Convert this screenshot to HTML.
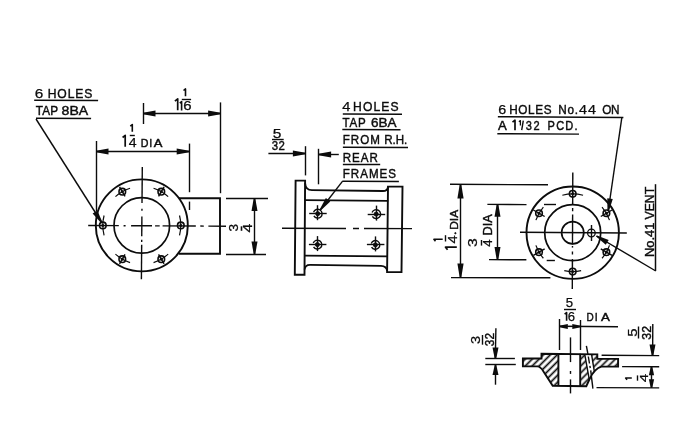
<!DOCTYPE html>
<html><head><meta charset="utf-8"><style>
html,body{margin:0;padding:0;background:#fff;}
svg{display:block;will-change:transform;}
text{font-family:"Liberation Sans",sans-serif;fill:#0c0c0c;stroke:#0c0c0c;stroke-width:0.42px;}
text.s{stroke-width:0.25px;}
</style></head><body>
<svg width="699" height="425" viewBox="0 0 699 425">
<defs><pattern id="hatch" patternUnits="userSpaceOnUse" width="4.9" height="4.9" patternTransform="translate(0.8 0) rotate(45)">
<rect width="4.9" height="4.9" fill="#fff"/><rect x="1.6" y="0" width="1.7" height="4.9" fill="#0c0c0c"/></pattern></defs>
<rect width="699" height="425" fill="#fff"/>
<path d="M178.8 198.3 H220 V253.8 H178.8" stroke="#0c0c0c" stroke-width="1.9" fill="none"/>
<circle cx="141.8" cy="225.4" r="46" stroke="#0c0c0c" stroke-width="1.9" fill="none"/>
<circle cx="141.8" cy="225.4" r="27.8" stroke="#0c0c0c" stroke-width="1.7" fill="none"/>
<line x1="88.2" y1="225.5" x2="118.8" y2="225.65" stroke="#0c0c0c" stroke-width="1.4"/>
<line x1="123.6" y1="225.68" x2="125.6" y2="225.69" stroke="#0c0c0c" stroke-width="1.4"/>
<line x1="131.1" y1="225.72" x2="152" y2="225.82" stroke="#0c0c0c" stroke-width="1.4"/>
<line x1="155.1" y1="225.84" x2="159.7" y2="225.86" stroke="#0c0c0c" stroke-width="1.4"/>
<line x1="162.6" y1="225.87" x2="195.8" y2="226.04" stroke="#0c0c0c" stroke-width="1.4"/>
<line x1="200.3" y1="226.06" x2="203.8" y2="226.08" stroke="#0c0c0c" stroke-width="1.4"/>
<line x1="208.4" y1="226.1" x2="226" y2="226.19" stroke="#0c0c0c" stroke-width="1.4"/>
<line x1="142.3" y1="167.1" x2="142.01" y2="203.1" stroke="#0c0c0c" stroke-width="1.4"/>
<line x1="141.97" y1="208.7" x2="141.95" y2="210.8" stroke="#0c0c0c" stroke-width="1.4"/>
<line x1="141.9" y1="216.5" x2="141.74" y2="236.3" stroke="#0c0c0c" stroke-width="1.4"/>
<line x1="141.72" y1="239.8" x2="141.7" y2="241.9" stroke="#0c0c0c" stroke-width="1.4"/>
<line x1="141.68" y1="244.7" x2="141.4" y2="279.3" stroke="#0c0c0c" stroke-width="1.4"/>
<circle cx="180.8" cy="225.4" r="3.3" stroke="#0c0c0c" stroke-width="1.6" fill="none"/>
<circle cx="180.8" cy="225.4" r="1.2" stroke="#0c0c0c" stroke-width="0.6" fill="#0c0c0c"/>
<path d="M179.52 235.29 A39 39 0 0 0 179.52 215.51" stroke="#0c0c0c" stroke-width="1.2" fill="none"/>
<circle cx="161.3" cy="191.63" r="3.3" stroke="#0c0c0c" stroke-width="1.6" fill="none"/>
<circle cx="161.3" cy="191.63" r="1.2" stroke="#0c0c0c" stroke-width="0.6" fill="#0c0c0c"/>
<path d="M168.14 196.64 A39 39 0 0 0 153.54 188.21" stroke="#0c0c0c" stroke-width="1.2" fill="none"/>
<line x1="158.55" y1="196.39" x2="164.05" y2="186.86" stroke="#0c0c0c" stroke-width="1.4"/>
<circle cx="122.3" cy="191.63" r="3.3" stroke="#0c0c0c" stroke-width="1.6" fill="none"/>
<circle cx="122.3" cy="191.63" r="1.2" stroke="#0c0c0c" stroke-width="0.6" fill="#0c0c0c"/>
<path d="M130.06 188.21 A39 39 0 0 0 115.46 196.64" stroke="#0c0c0c" stroke-width="1.2" fill="none"/>
<line x1="125.05" y1="196.39" x2="119.55" y2="186.86" stroke="#0c0c0c" stroke-width="1.4"/>
<circle cx="102.8" cy="225.4" r="3.3" stroke="#0c0c0c" stroke-width="1.6" fill="none"/>
<circle cx="102.8" cy="225.4" r="1.2" stroke="#0c0c0c" stroke-width="0.6" fill="#0c0c0c"/>
<path d="M104.08 215.51 A39 39 0 0 0 104.08 235.29" stroke="#0c0c0c" stroke-width="1.2" fill="none"/>
<circle cx="122.3" cy="259.17" r="3.3" stroke="#0c0c0c" stroke-width="1.6" fill="none"/>
<circle cx="122.3" cy="259.17" r="1.2" stroke="#0c0c0c" stroke-width="0.6" fill="#0c0c0c"/>
<path d="M115.46 254.16 A39 39 0 0 0 130.06 262.59" stroke="#0c0c0c" stroke-width="1.2" fill="none"/>
<line x1="125.05" y1="254.41" x2="119.55" y2="263.94" stroke="#0c0c0c" stroke-width="1.4"/>
<circle cx="161.3" cy="259.17" r="3.3" stroke="#0c0c0c" stroke-width="1.6" fill="none"/>
<circle cx="161.3" cy="259.17" r="1.2" stroke="#0c0c0c" stroke-width="0.6" fill="#0c0c0c"/>
<path d="M153.54 262.59 A39 39 0 0 0 168.14 254.16" stroke="#0c0c0c" stroke-width="1.2" fill="none"/>
<line x1="158.55" y1="254.41" x2="164.05" y2="263.94" stroke="#0c0c0c" stroke-width="1.4"/>
<line x1="96.5" y1="141" x2="96.5" y2="211" stroke="#0c0c0c" stroke-width="1.4"/>
<line x1="189.5" y1="143.6" x2="189.5" y2="192.2" stroke="#0c0c0c" stroke-width="1.4"/>
<line x1="189.5" y1="201.6" x2="189.5" y2="210" stroke="#0c0c0c" stroke-width="1.4"/>
<line x1="96" y1="151.5" x2="189.2" y2="151.5" stroke="#0c0c0c" stroke-width="1.4"/>
<polygon points="96,150.7 108.5,148.5 108.5,154.5 96,152.3" fill="#0c0c0c"/>
<polygon points="189.2,152.3 176.7,154.5 176.7,148.5 189.2,150.7" fill="#0c0c0c"/>
<line x1="143.5" y1="103" x2="143.5" y2="124" stroke="#0c0c0c" stroke-width="1.4"/>
<line x1="220.5" y1="102.4" x2="220.5" y2="193.2" stroke="#0c0c0c" stroke-width="1.4"/>
<line x1="143" y1="113.5" x2="220.6" y2="113.5" stroke="#0c0c0c" stroke-width="1.4"/>
<polygon points="143,112.7 155.5,110.5 155.5,116.5 143,114.3" fill="#0c0c0c"/>
<polygon points="220.6,114.3 208.1,116.5 208.1,110.5 220.6,112.7" fill="#0c0c0c"/>
<line x1="226" y1="198.5" x2="268" y2="198.5" stroke="#0c0c0c" stroke-width="1.4"/>
<line x1="226" y1="254.5" x2="266" y2="254.5" stroke="#0c0c0c" stroke-width="1.4"/>
<line x1="254.5" y1="198.6" x2="254.5" y2="254" stroke="#0c0c0c" stroke-width="1.4"/>
<polygon points="255.3,198.6 257.5,211.1 251.5,211.1 253.7,198.6" fill="#0c0c0c"/>
<polygon points="253.7,254 251.5,241.5 257.5,241.5 255.3,254" fill="#0c0c0c"/>
<text x="34.88" y="97.8" font-size="13.2" textLength="8.55" lengthAdjust="spacingAndGlyphs" class="s" text-anchor="start">6</text>
<text x="51.79" y="97.8" font-size="13.2" transform="scale(0.92 1)" textLength="48.7" lengthAdjust="spacing">HOLES</text>
<line x1="34.2" y1="100.3" x2="98.1" y2="100.6" stroke="#0c0c0c" stroke-width="1.5"/>
<text x="38.78" y="115.3" font-size="12.8" transform="scale(0.92 1)" textLength="24.29" lengthAdjust="spacing">TAP</text>
<text x="61.6" y="115.3" font-size="12.8" textLength="26.59" lengthAdjust="spacingAndGlyphs" text-anchor="start">8BA</text>
<line x1="36" y1="118.3" x2="91.1" y2="118.5" stroke="#0c0c0c" stroke-width="1.5"/>
<line x1="36" y1="119" x2="101.7" y2="222.5" stroke="#0c0c0c" stroke-width="1.4"/>
<polygon points="101.11,222.88 92.64,213.45 97.36,210.45 102.29,222.12" fill="#0c0c0c"/>
<path d="M174.9 101.04 L177.7 98.8 V110.2" stroke="#0c0c0c" stroke-width="1.7" fill="none" stroke-linejoin="round"/>
<path d="M183.5 90.5 L185.5 88.9 V96.3" stroke="#0c0c0c" stroke-width="1.6" fill="none" stroke-linejoin="round"/>
<line x1="181.8" y1="99.5" x2="191.1" y2="99.5" stroke="#0c0c0c" stroke-width="1.4"/>
<path d="M179.8 103.04 L181.6 101.6 V110.4" stroke="#0c0c0c" stroke-width="1.6" fill="none" stroke-linejoin="round"/>
<text x="183.35" y="110.4" font-size="12.2" textLength="8.31" lengthAdjust="spacingAndGlyphs" class="s" text-anchor="start">6</text>
<path d="M122.6 137.48 L125.2 135.4 V146.8" stroke="#0c0c0c" stroke-width="1.7" fill="none" stroke-linejoin="round"/>
<path d="M130.3 126.2 L132.3 124.6 V131.8" stroke="#0c0c0c" stroke-width="1.6" fill="none" stroke-linejoin="round"/>
<line x1="129.8" y1="135.5" x2="134.8" y2="135.5" stroke="#0c0c0c" stroke-width="1.4"/>
<text x="128.68" y="147.2" font-size="13.2" textLength="7.85" lengthAdjust="spacingAndGlyphs" class="s" text-anchor="start">4</text>
<text x="140.81" y="146.8" font-size="11.3" textLength="7.68" lengthAdjust="spacingAndGlyphs" text-anchor="start">D</text>
<text x="149.21" y="146.8" font-size="11.3" textLength="2.98" lengthAdjust="spacingAndGlyphs" text-anchor="start">I</text>
<text x="153.71" y="146.8" font-size="11.3" textLength="8.68" lengthAdjust="spacingAndGlyphs" text-anchor="start">A</text>
<g transform="translate(238 0) rotate(-90)">
<text x="-231.47" y="0" font-size="12.4" textLength="7.54" lengthAdjust="spacingAndGlyphs" class="s" text-anchor="start">3</text>
</g>
<line x1="241.5" y1="226.3" x2="241.5" y2="230.8" stroke="#0c0c0c" stroke-width="1.6"/>
<g transform="translate(251.6 0) rotate(-90)">
<text x="-232.47" y="0" font-size="12.4" textLength="8.94" lengthAdjust="spacingAndGlyphs" class="s" text-anchor="start">4</text>
</g>
<path d="M294.8 274.7 L295.6 180.6 H305.1 L304.5 274.7 Z" stroke="#0c0c0c" stroke-width="1.9" fill="none"/>
<path d="M387.1 272.1 L388 186.6 H402.5 L401.5 272.1 Z" stroke="#0c0c0c" stroke-width="1.9" fill="none"/>
<path d="M305.1 183 Q305.5 190.2 312 190.2 L383 191 Q387.5 191 388 186.8" stroke="#0c0c0c" stroke-width="1.8" fill="none"/>
<path d="M304.6 269.5 Q305 264.8 310 264.8 L381 265.8 Q386.5 266 387.2 271" stroke="#0c0c0c" stroke-width="1.8" fill="none"/>
<line x1="305.1" y1="200.2" x2="388.2" y2="200.8" stroke="#0c0c0c" stroke-width="1.7"/>
<line x1="304.7" y1="255.6" x2="387.3" y2="256.4" stroke="#0c0c0c" stroke-width="1.7"/>
<line x1="282" y1="228.3" x2="346" y2="228.45" stroke="#0c0c0c" stroke-width="1.4"/>
<line x1="353" y1="228.46" x2="359" y2="228.48" stroke="#0c0c0c" stroke-width="1.4"/>
<line x1="364" y1="228.49" x2="412" y2="228.6" stroke="#0c0c0c" stroke-width="1.4"/>
<path d="M313.57 212.2 A4.4 4.4 0 1 1 313.89 215.9" stroke="#0c0c0c" stroke-width="1.4" fill="none"/>
<circle cx="317.7" cy="213.7" r="2.1" stroke="#0c0c0c" stroke-width="0.8" fill="#0c0c0c"/>
<g>
<line x1="309.2" y1="213.5" x2="326.7" y2="213.5" stroke="#0c0c0c" stroke-width="1.4"/>
<line x1="317.5" y1="205.2" x2="317.5" y2="220.2" stroke="#0c0c0c" stroke-width="1.4"/>
</g>
<path d="M372.07 212.6 A4.4 4.4 0 1 1 372.39 216.3" stroke="#0c0c0c" stroke-width="1.4" fill="none"/>
<circle cx="376.2" cy="214.1" r="2.1" stroke="#0c0c0c" stroke-width="0.8" fill="#0c0c0c"/>
<g>
<line x1="367.7" y1="214.5" x2="385.2" y2="214.5" stroke="#0c0c0c" stroke-width="1.4"/>
<line x1="376.5" y1="205.6" x2="376.5" y2="220.6" stroke="#0c0c0c" stroke-width="1.4"/>
</g>
<path d="M313.27 243.1 A4.4 4.4 0 1 1 313.59 246.8" stroke="#0c0c0c" stroke-width="1.4" fill="none"/>
<circle cx="317.4" cy="244.6" r="2.1" stroke="#0c0c0c" stroke-width="0.8" fill="#0c0c0c"/>
<g>
<line x1="308.9" y1="244.5" x2="326.4" y2="244.5" stroke="#0c0c0c" stroke-width="1.4"/>
<line x1="317.5" y1="236.1" x2="317.5" y2="251.1" stroke="#0c0c0c" stroke-width="1.4"/>
</g>
<path d="M371.27 243.4 A4.4 4.4 0 1 1 371.59 247.1" stroke="#0c0c0c" stroke-width="1.4" fill="none"/>
<circle cx="375.4" cy="244.9" r="2.1" stroke="#0c0c0c" stroke-width="0.8" fill="#0c0c0c"/>
<g>
<line x1="366.9" y1="244.5" x2="384.4" y2="244.5" stroke="#0c0c0c" stroke-width="1.4"/>
<line x1="375.5" y1="236.4" x2="375.5" y2="251.4" stroke="#0c0c0c" stroke-width="1.4"/>
</g>
<line x1="305.5" y1="146.2" x2="305.5" y2="175.4" stroke="#0c0c0c" stroke-width="1.4"/>
<line x1="318.5" y1="148.8" x2="318.5" y2="184.3" stroke="#0c0c0c" stroke-width="1.4"/>
<line x1="268.4" y1="153.5" x2="305.4" y2="153.5" stroke="#0c0c0c" stroke-width="1.4"/>
<polygon points="305.4,154.3 292.9,156.5 292.9,150.5 305.4,152.7" fill="#0c0c0c"/>
<line x1="318.6" y1="154.5" x2="338.8" y2="154.5" stroke="#0c0c0c" stroke-width="1.4"/>
<polygon points="318.6,153.7 331.1,151.5 331.1,157.5 318.6,155.3" fill="#0c0c0c"/>
<text x="272.73" y="137.6" font-size="12.4" textLength="8.64" lengthAdjust="spacingAndGlyphs" class="s" text-anchor="start">5</text>
<line x1="272" y1="139.5" x2="283.7" y2="139.5" stroke="#0c0c0c" stroke-width="1.4"/>
<text x="295.44" y="150.5" font-size="12.4" transform="scale(0.92 1)" textLength="14.13" lengthAdjust="spacing">32</text>
<text x="342.18" y="110.9" font-size="13.2" textLength="8.15" lengthAdjust="spacingAndGlyphs" class="s" text-anchor="start">4</text>
<text x="383.75" y="110.9" font-size="13.2" transform="scale(0.92 1)" textLength="49.57" lengthAdjust="spacing">HOLES</text>
<line x1="342.8" y1="114.1" x2="402" y2="114.3" stroke="#0c0c0c" stroke-width="1.5"/>
<text x="372.27" y="127.1" font-size="12.6" transform="scale(0.92 1)" textLength="25.35" lengthAdjust="spacing">TAP</text>
<text x="371.02" y="127.1" font-size="12.6" textLength="25.56" lengthAdjust="spacingAndGlyphs" text-anchor="start">6BA</text>
<line x1="342.3" y1="129.5" x2="400.5" y2="129.7" stroke="#0c0c0c" stroke-width="1.5"/>
<text x="372.49" y="144.2" font-size="12.6" transform="scale(0.92 1)" textLength="40.35" lengthAdjust="spacing">FROM</text>
<text x="417.7" y="144.2" font-size="12.6" transform="scale(0.92 1)" textLength="25.02" lengthAdjust="spacing">R.H.</text>
<line x1="342.9" y1="147.3" x2="408" y2="147.5" stroke="#0c0c0c" stroke-width="1.5"/>
<text x="372.49" y="162" font-size="12.6" transform="scale(0.92 1)" textLength="38.29" lengthAdjust="spacing">REAR</text>
<line x1="342.9" y1="164.4" x2="380.2" y2="164.5" stroke="#0c0c0c" stroke-width="1.5"/>
<text x="372.49" y="178.5" font-size="12.6" transform="scale(0.92 1)" textLength="57.96" lengthAdjust="spacing">FRAMES</text>
<line x1="342.8" y1="181.3" x2="398.9" y2="181.5" stroke="#0c0c0c" stroke-width="1.5"/>
<line x1="342.8" y1="180.9" x2="320.4" y2="209.7" stroke="#0c0c0c" stroke-width="1.4"/>
<polygon points="319.85,209.27 325.86,198.11 330.28,201.55 320.95,210.13" fill="#0c0c0c"/>
<circle cx="572.7" cy="232.7" r="46.2" stroke="#0c0c0c" stroke-width="1.9" fill="none"/>
<circle cx="572.7" cy="232.7" r="28" stroke="#0c0c0c" stroke-width="1.7" fill="none"/>
<circle cx="572.7" cy="232.7" r="11.1" stroke="#0c0c0c" stroke-width="1.7" fill="none"/>
<line x1="520" y1="232.3" x2="626.8" y2="233" stroke="#0c0c0c" stroke-width="1.4"/>
<line x1="572.8" y1="172.4" x2="572.66" y2="204.6" stroke="#0c0c0c" stroke-width="1.4"/>
<line x1="572.65" y1="207.9" x2="572.63" y2="211.2" stroke="#0c0c0c" stroke-width="1.4"/>
<line x1="572.62" y1="214.5" x2="572.49" y2="244.5" stroke="#0c0c0c" stroke-width="1.4"/>
<line x1="572.48" y1="246" x2="572.48" y2="247.6" stroke="#0c0c0c" stroke-width="1.4"/>
<line x1="572.46" y1="251.4" x2="572.45" y2="254.5" stroke="#0c0c0c" stroke-width="1.4"/>
<line x1="572.43" y1="259" x2="572.3" y2="288.9" stroke="#0c0c0c" stroke-width="1.4"/>
<circle cx="606.39" cy="213.25" r="3.3" stroke="#0c0c0c" stroke-width="1.6" fill="none"/>
<circle cx="606.39" cy="213.25" r="1.2" stroke="#0c0c0c" stroke-width="0.6" fill="#0c0c0c"/>
<path d="M609.49 220.07 A38.9 38.9 0 0 0 602.04 207.16" stroke="#0c0c0c" stroke-width="1.2" fill="none"/>
<line x1="600.76" y1="216.5" x2="612.02" y2="210" stroke="#0c0c0c" stroke-width="1.4"/>
<circle cx="572.7" cy="193.8" r="3.3" stroke="#0c0c0c" stroke-width="1.6" fill="none"/>
<circle cx="572.7" cy="193.8" r="1.2" stroke="#0c0c0c" stroke-width="0.6" fill="#0c0c0c"/>
<path d="M583.07 195.21 A38.9 38.9 0 0 0 562.33 195.21" stroke="#0c0c0c" stroke-width="1.2" fill="none"/>
<circle cx="539.01" cy="213.25" r="3.3" stroke="#0c0c0c" stroke-width="1.6" fill="none"/>
<circle cx="539.01" cy="213.25" r="1.2" stroke="#0c0c0c" stroke-width="0.6" fill="#0c0c0c"/>
<path d="M543.36 207.16 A38.9 38.9 0 0 0 535.91 220.07" stroke="#0c0c0c" stroke-width="1.2" fill="none"/>
<line x1="544.64" y1="216.5" x2="533.38" y2="210" stroke="#0c0c0c" stroke-width="1.4"/>
<circle cx="539.01" cy="252.15" r="3.3" stroke="#0c0c0c" stroke-width="1.6" fill="none"/>
<circle cx="539.01" cy="252.15" r="1.2" stroke="#0c0c0c" stroke-width="0.6" fill="#0c0c0c"/>
<path d="M535.91 245.33 A38.9 38.9 0 0 0 543.36 258.24" stroke="#0c0c0c" stroke-width="1.2" fill="none"/>
<line x1="544.64" y1="248.9" x2="533.38" y2="255.4" stroke="#0c0c0c" stroke-width="1.4"/>
<circle cx="572.7" cy="271.6" r="3.3" stroke="#0c0c0c" stroke-width="1.6" fill="none"/>
<circle cx="572.7" cy="271.6" r="1.2" stroke="#0c0c0c" stroke-width="0.6" fill="#0c0c0c"/>
<path d="M564.27 270.68 A38.9 38.9 0 0 0 581.13 270.68" stroke="#0c0c0c" stroke-width="1.2" fill="none"/>
<circle cx="606.39" cy="252.15" r="3.3" stroke="#0c0c0c" stroke-width="1.6" fill="none"/>
<circle cx="606.39" cy="252.15" r="1.2" stroke="#0c0c0c" stroke-width="0.6" fill="#0c0c0c"/>
<path d="M602.04 258.24 A38.9 38.9 0 0 0 609.49 245.33" stroke="#0c0c0c" stroke-width="1.2" fill="none"/>
<line x1="600.76" y1="248.9" x2="612.02" y2="255.4" stroke="#0c0c0c" stroke-width="1.4"/>
<circle cx="591.4" cy="233" r="3.8" stroke="#0c0c0c" stroke-width="1.3" fill="none"/>
<line x1="591.5" y1="225" x2="591.5" y2="241" stroke="#0c0c0c" stroke-width="1.4"/>
<line x1="450" y1="184.3" x2="548" y2="184.8" stroke="#0c0c0c" stroke-width="1.4"/>
<line x1="451" y1="277.6" x2="550.4" y2="277.8" stroke="#0c0c0c" stroke-width="1.4"/>
<line x1="460.5" y1="184.3" x2="460.5" y2="277.6" stroke="#0c0c0c" stroke-width="1.4"/>
<polygon points="461.3,184.6 463.6,198.6 457.4,198.6 459.7,184.6" fill="#0c0c0c"/>
<polygon points="459.7,277.6 457.4,263.6 463.6,263.6 461.3,277.6" fill="#0c0c0c"/>
<line x1="487.4" y1="204.4" x2="526.5" y2="204.6" stroke="#0c0c0c" stroke-width="1.4"/>
<line x1="544" y1="204.5" x2="556" y2="204.5" stroke="#0c0c0c" stroke-width="1.4"/>
<line x1="489" y1="259.6" x2="526.4" y2="259.8" stroke="#0c0c0c" stroke-width="1.4"/>
<line x1="546.7" y1="260.5" x2="554.9" y2="260.5" stroke="#0c0c0c" stroke-width="1.4"/>
<line x1="497.5" y1="204.2" x2="497.5" y2="259.6" stroke="#0c0c0c" stroke-width="1.4"/>
<polygon points="498.3,204.2 500.5,216.7 494.5,216.7 496.7,204.2" fill="#0c0c0c"/>
<polygon points="496.7,259.6 494.5,247.1 500.5,247.1 498.3,259.6" fill="#0c0c0c"/>
<path d="M447.58 249.8 L445.5 247.2 H456.8" stroke="#0c0c0c" stroke-width="1.7" fill="none" stroke-linejoin="round"/>
<path d="M435.5 241.3 L433.9 239.3 H442.7" stroke="#0c0c0c" stroke-width="1.6" fill="none" stroke-linejoin="round"/>
<line x1="445.5" y1="235.2" x2="445.5" y2="241.5" stroke="#0c0c0c" stroke-width="1.4"/>
<g transform="translate(457.2 0) rotate(-90)">
<text x="-243.51" y="0" font-size="13" textLength="8.22" lengthAdjust="spacingAndGlyphs" class="s" text-anchor="start">4</text>
</g>
<circle cx="455.4" cy="233.2" r="0.7" stroke="#0c0c0c" stroke-width="0.8" fill="#0c0c0c"/>
<g transform="translate(457.6 0) rotate(-90)">
<text x="-229.8" y="0" font-size="11.4" textLength="20" lengthAdjust="spacingAndGlyphs" text-anchor="start">DIA</text>
</g>
<g transform="translate(477.3 0) rotate(-90)">
<text x="-246.94" y="0" font-size="12" textLength="8.78" lengthAdjust="spacingAndGlyphs" class="s" text-anchor="start">3</text>
</g>
<line x1="481.5" y1="240" x2="481.5" y2="245.6" stroke="#0c0c0c" stroke-width="1.4"/>
<g transform="translate(492.4 0) rotate(-90)">
<text x="-246.68" y="0" font-size="12.6" textLength="7.36" lengthAdjust="spacingAndGlyphs" class="s" text-anchor="start">4</text>
</g>
<g transform="translate(492.4 0) rotate(-90)">
<text x="-235.44" y="0" font-size="12" textLength="21.28" lengthAdjust="spacingAndGlyphs" text-anchor="start">DIA</text>
</g>
<text x="498.3" y="113.6" font-size="12.8" textLength="7.99" lengthAdjust="spacingAndGlyphs" class="s" text-anchor="start">6</text>
<text x="553.56" y="113.6" font-size="12.8" transform="scale(0.92 1)" textLength="45.92" lengthAdjust="spacing">HOLES</text>
<text x="606.93" y="113.6" font-size="12.8" transform="scale(0.92 1)" textLength="21.36" lengthAdjust="spacing">No.</text>
<text x="579.1" y="113.6" font-size="12.8" textLength="7.99" lengthAdjust="spacingAndGlyphs" class="s" text-anchor="start">4</text>
<text x="588" y="113.6" font-size="12.8" textLength="7.99" lengthAdjust="spacingAndGlyphs" class="s" text-anchor="start">4</text>
<text x="654.54" y="113.6" font-size="12.8" transform="scale(0.92 1)" textLength="18.86" lengthAdjust="spacing">ON</text>
<line x1="497.9" y1="116.8" x2="623.4" y2="117.4" stroke="#0c0c0c" stroke-width="1.5"/>
<text x="498.06" y="130.3" font-size="12" textLength="8.78" lengthAdjust="spacingAndGlyphs" text-anchor="start">A</text>
<path d="M512.5 122.2 L515 120.2 V130.3" stroke="#0c0c0c" stroke-width="1.7" fill="none" stroke-linejoin="round"/>
<path d="M518.9 121.8 L520.4 120.6 V125.4" stroke="#0c0c0c" stroke-width="1.3" fill="none" stroke-linejoin="round"/>
<line x1="523.3" y1="120.6" x2="521.7" y2="130.2" stroke="#0c0c0c" stroke-width="1.4"/>
<text x="571.44" y="130.3" font-size="12" transform="scale(0.92 1)" textLength="15.05" lengthAdjust="spacing">32</text>
<text x="595.25" y="130.3" font-size="12" transform="scale(0.92 1)" textLength="32.55" lengthAdjust="spacing">PCD.</text>
<line x1="497.3" y1="133.7" x2="579" y2="134.1" stroke="#0c0c0c" stroke-width="1.4"/>
<line x1="621.9" y1="117.2" x2="608.2" y2="211" stroke="#0c0c0c" stroke-width="1.4"/>
<polygon points="607.51,210.9 607.24,198.23 612.78,199.04 608.89,211.1" fill="#0c0c0c"/>
<line x1="655.5" y1="184.2" x2="655.5" y2="271" stroke="#0c0c0c" stroke-width="1.5"/>
<line x1="655.8" y1="271" x2="596.5" y2="236" stroke="#0c0c0c" stroke-width="1.4"/>
<polygon points="596.86,235.4 608.66,240.03 605.78,244.83 596.14,236.6" fill="#0c0c0c"/>
<g transform="translate(653.8 0) rotate(-90)">
<text x="-257.1" y="0" font-size="12.8" textLength="34.59" lengthAdjust="spacingAndGlyphs" text-anchor="start">No.41</text>
<text x="-219.5" y="0" font-size="12.8" textLength="32.69" lengthAdjust="spacingAndGlyphs" text-anchor="start">VENT</text>
</g>
<path d="M522.9 358.5 H541.5 V353.8 L597.3 354.4 V358.9 H618.1 V366.6 H601.5 C596 368 592.5 373 589.8 378.5 L586.3 386.2 L552.7 385.8 L543.5 371.5 C541.8 368.6 540 366.4 537.2 366.4 H522.9 Z" fill="url(#hatch)" stroke="none"/>
<rect x="558.4" y="353.8" width="21.8" height="32.2" fill="#fff"/>
<path d="M584.8 354.6 L591.6 354.6 L594.4 371.5 L589.2 379 Z" fill="#fff"/>
<path d="M522.9 358.5 H541.5 V353.8 L597.3 354.4 V358.9 H618.1 V366.6 H601.5 C596 368 592.5 373 589.8 378.5 L586.3 386.2 L552.7 385.8 L543.5 371.5 C541.8 368.6 540 366.4 537.2 366.4 H522.9 Z" fill="none" stroke="#0c0c0c" stroke-width="1.9" stroke-linejoin="miter"/>
<line x1="584.8" y1="354.6" x2="589.2" y2="379.2" stroke="#0c0c0c" stroke-width="1.4"/>
<line x1="591.6" y1="354.6" x2="594.4" y2="371.8" stroke="#0c0c0c" stroke-width="1.4"/>
<line x1="586.4" y1="345.8" x2="587.9" y2="354.2" stroke="#0c0c0c" stroke-width="1.4"/>
<line x1="588.3" y1="356.5" x2="589.5" y2="363.5" stroke="#0c0c0c" stroke-width="1.4"/>
<line x1="589.9" y1="365.8" x2="590.3" y2="368" stroke="#0c0c0c" stroke-width="1.4"/>
<line x1="590.7" y1="370.3" x2="592.9" y2="388.6" stroke="#0c0c0c" stroke-width="1.4"/>
<line x1="558.4" y1="353.8" x2="558.4" y2="386" stroke="#0c0c0c" stroke-width="1.9"/>
<line x1="580.2" y1="353.8" x2="580.2" y2="386.2" stroke="#0c0c0c" stroke-width="1.9"/>
<line x1="570.5" y1="337.4" x2="570.5" y2="362.1" stroke="#0c0c0c" stroke-width="1.4"/>
<line x1="570.5" y1="371" x2="570.5" y2="373.9" stroke="#0c0c0c" stroke-width="1.4"/>
<line x1="570.5" y1="379.4" x2="570.5" y2="393.4" stroke="#0c0c0c" stroke-width="1.4"/>
<line x1="559.5" y1="319" x2="559.5" y2="350" stroke="#0c0c0c" stroke-width="1.4"/>
<line x1="580.5" y1="320" x2="580.5" y2="350" stroke="#0c0c0c" stroke-width="1.4"/>
<line x1="559.3" y1="326.3" x2="618" y2="326.8" stroke="#0c0c0c" stroke-width="1.4"/>
<polygon points="559.3,325.7 567.8,323.9 567.8,329.1 559.3,327.3" fill="#0c0c0c"/>
<polygon points="580.8,327.3 572.3,329.1 572.3,323.9 580.8,325.7" fill="#0c0c0c"/>
<text x="565.73" y="307" font-size="12.4" textLength="7.34" lengthAdjust="spacingAndGlyphs" class="s" text-anchor="start">5</text>
<line x1="564" y1="309.5" x2="576" y2="309.5" stroke="#0c0c0c" stroke-width="1.4"/>
<path d="M564.6 314.2 L566.6 312.6 V320.8" stroke="#0c0c0c" stroke-width="1.6" fill="none" stroke-linejoin="round"/>
<text x="567.86" y="320.8" font-size="12" textLength="7.28" lengthAdjust="spacingAndGlyphs" class="s" text-anchor="start">6</text>
<text x="586.4" y="321.2" font-size="11.4" textLength="7.2" lengthAdjust="spacingAndGlyphs" text-anchor="start">D</text>
<text x="594.8" y="321.2" font-size="11.4" textLength="3" lengthAdjust="spacingAndGlyphs" text-anchor="start">I</text>
<text x="601" y="321.2" font-size="11.4" textLength="8.9" lengthAdjust="spacingAndGlyphs" text-anchor="start">A</text>
<line x1="485.3" y1="358.5" x2="514.9" y2="358.5" stroke="#0c0c0c" stroke-width="1.4"/>
<line x1="485.3" y1="364.5" x2="515.8" y2="364.5" stroke="#0c0c0c" stroke-width="1.4"/>
<line x1="495.9" y1="328.2" x2="495.3" y2="358.4" stroke="#0c0c0c" stroke-width="1.4"/>
<polygon points="494.7,358.4 492.5,347.4 498.5,347.4 496.3,358.4" fill="#0c0c0c"/>
<line x1="495.5" y1="364.9" x2="495.5" y2="384.7" stroke="#0c0c0c" stroke-width="1.4"/>
<polygon points="496.3,364.9 498.5,374.9 492.5,374.9 494.7,364.9" fill="#0c0c0c"/>
<g transform="translate(480.3 0) rotate(-90)">
<text x="-344.07" y="0" font-size="12.4" textLength="8.14" lengthAdjust="spacingAndGlyphs" class="s" text-anchor="start">3</text>
</g>
<line x1="482.5" y1="335" x2="482.5" y2="344.7" stroke="#0c0c0c" stroke-width="1.4"/>
<g transform="translate(494.1 0) rotate(-90)">
<text x="-346.18" y="0" font-size="12.6" textLength="13.26" lengthAdjust="spacingAndGlyphs" text-anchor="start">32</text>
</g>
<line x1="601.6" y1="355.3" x2="659.2" y2="355.6" stroke="#0c0c0c" stroke-width="1.4"/>
<line x1="622.1" y1="366.6" x2="659.2" y2="366.8" stroke="#0c0c0c" stroke-width="1.4"/>
<line x1="596.5" y1="387.6" x2="659.2" y2="387.9" stroke="#0c0c0c" stroke-width="1.4"/>
<line x1="652.8" y1="324.1" x2="652.6" y2="355.4" stroke="#0c0c0c" stroke-width="1.4"/>
<polygon points="651.7,355.4 649.5,344.4 655.5,344.4 653.3,355.4" fill="#0c0c0c"/>
<line x1="651.5" y1="366.7" x2="651.5" y2="387.8" stroke="#0c0c0c" stroke-width="1.4"/>
<polygon points="652.3,366.7 654.1,375.2 648.9,375.2 650.7,366.7" fill="#0c0c0c"/>
<polygon points="650.7,387.8 648.9,379.3 654.1,379.3 652.3,387.8" fill="#0c0c0c"/>
<g transform="translate(637.3 0) rotate(-90)">
<text x="-336.81" y="0" font-size="13" textLength="8.32" lengthAdjust="spacingAndGlyphs" class="s" text-anchor="start">5</text>
</g>
<line x1="638.5" y1="326.5" x2="638.5" y2="338.5" stroke="#0c0c0c" stroke-width="1.4"/>
<g transform="translate(651.1 0) rotate(-90)">
<text x="-339.71" y="0" font-size="13" textLength="13.82" lengthAdjust="spacingAndGlyphs" text-anchor="start">32</text>
</g>
<path d="M627.04 379.9 L625.6 378.1 H631.8" stroke="#0c0c0c" stroke-width="1.5" fill="none" stroke-linejoin="round"/>
<line x1="637.5" y1="375.4" x2="637.5" y2="380.7" stroke="#0c0c0c" stroke-width="1.4"/>
<g transform="translate(647.7 0) rotate(-90)">
<text x="-382.34" y="0" font-size="10.5" textLength="8.57" lengthAdjust="spacingAndGlyphs" class="s" text-anchor="start">4</text>
</g>
</svg></body></html>
